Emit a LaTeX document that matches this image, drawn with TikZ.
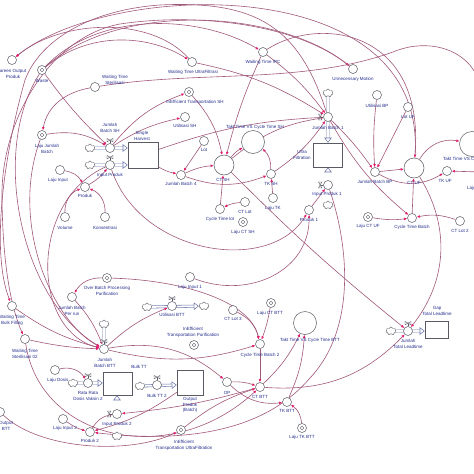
\documentclass[tikz,border=0pt]{standalone}
\usepackage{fontspec}
\setmainfont{Liberation Sans}
\usetikzlibrary{arrows.meta,shapes.symbols,calc}
\definecolor{circgray}{RGB}{90,90,100}
\definecolor{txtblue}{RGB}{35,45,140}
\definecolor{linkcol}{RGB}{160,88,122}
\definecolor{arrowmag}{RGB}{225,30,110}
\definecolor{pipecol}{RGB}{110,120,170}
\pgfdeclarelayer{bgfill}
\pgfdeclarelayer{background}
\pgfsetlayers{bgfill,background,main}
\newcommand\lblfont{\fontsize{4.5}{5.7}\selectfont}
\newcommand\vtopper[1]{%
  \draw[vhandle] (#1.north) -- ++(0,-1.8);
  \draw[vhandle,fill=white] ($(#1)+(-3,-9.5)$) -- ($(#1)+(3,-6.2)$) -- ($(#1)+(3,-9.5)$) -- ($(#1)+(-3,-6.2)$) -- cycle;}
\newcommand\vsider[1]{%
  \draw[vhandle] (#1.west) -- ++(-1.8,0);
  \draw[vhandle,fill=white] ($(#1)+(-9.5,-3)$) -- ($(#1)+(-6.2,3)$) -- ($(#1)+(-9.5,3)$) -- ($(#1)+(-6.2,-3)$) -- cycle;}
\begin{document}
\begin{tikzpicture}[x=1pt,y=-1pt,
  var/.style={circle, draw=circgray, fill=white, line width=0.5pt, minimum size=9pt, inner sep=0pt},
  bigvar/.style={var, minimum size=20pt},
  shadowv/.style={var, path picture={\draw[circgray,line width=0.35pt] (path picture bounding box.center) circle[radius=1.8pt];}},
  valve/.style={var},
  vhandle/.style={draw=circgray, line width=0.45pt},
  lbl/.style={font=\lblfont, text=txtblue, inner sep=0pt, align=center},
  lnk/.style={draw=linkcol, line width=0.6pt, -{Latex[length=3.2pt,width=2.8pt,color=arrowmag]}},
  levelbox/.style={rectangle, draw=circgray, fill=white, line width=0.55pt, inner sep=0pt},
  cloudn/.style={cloud, cloud puffs=7, aspect=1.3, draw=circgray, fill=white, line width=0.45pt, minimum width=10pt, minimum height=8pt, inner sep=0pt},
  pipeflow/.style={draw=pipecol, line width=0.55pt, double=white, double distance=1.8pt, -{Triangle[length=5pt,width=7.5pt,fill=white]}},
  pipeline/.style={draw=pipecol, line width=0.55pt, double=white, double distance=1.8pt}
]
\useasboundingbox (0,0) rectangle (474,474);
\begin{pgfonlayer}{bgfill}
\fill[white] (0,0) rectangle (474,474);
\end{pgfonlayer}

% ---------- levels ----------
\node[levelbox, minimum width=30pt, minimum height=26pt] (shbox) at (143,155) {};
\node[lbl] (shbox-l) at (142,136) {Single\\Harvest};
\node[levelbox, minimum width=29pt, minimum height=24pt] (ufbox) at (327.5,155) {};
\node[lbl] (ufbox-l) at (302,155) {Ultra\\Filtration};
\node[levelbox, minimum width=29pt, minimum height=23pt] (bulkbox) at (117.5,383.5) {};
\node[lbl] (bulkbox-l) at (139,367) {Bulk TT};
\node[levelbox, minimum width=26pt, minimum height=25pt] (outbox) at (190,382.5) {};
\node[lbl] (outbox-l) at (190,405) {Output\\Produk\\(Batch)};
\node[levelbox, minimum width=23pt, minimum height=17pt] (gapbox) at (436.5,329.5) {};
\node[lbl] (gapbox-l) at (437,311) {Gap\\Total Leadtime};

% ---------- clouds ----------
\node[cloudn] (cjbsh) at (90,148) {};
\node[cloudn] (cip) at (90,165) {};
\node[cloudn] (cjb1) at (328,93) {};
\node[cloudn] (cip1) at (328,205) {};
\node[cloudn] (cjbtt) at (104,324) {};
\node[cloudn] (crrdv) at (73,383) {};
\node[cloudn] (cip2) at (117,436) {};
\node[cloudn] (cbtt2) at (140,386) {};
\node[cloudn] (cutbtt) at (147,307) {};
\node[cloudn] (cutbtt2) at (204,306) {};
\node[cloudn] (cjtl) at (391,331) {};

% ---------- valves ----------
\node[valve] (vjbsh) at (110,148) {};
\node[lbl] (vjbsh-l) at (110,128) {Jumlah\\Batch SH};
\node[valve] (vip) at (110,165) {};
\node[lbl] (vip-l) at (110,175) {Input Produk};
\node[valve] (vjb1) at (328,117) {};
\node[lbl] (vjb1-l) at (328,128) {Jumlah Batch 1};
\node[valve] (vip1) at (328,185) {};
\node[lbl] (vip1-l) at (327,194) {Input Produk 1};
\node[valve] (vjbtt) at (104,349) {};
\node[lbl] (vjbtt-l) at (105,363) {Jumlah\\Batch BTT};
\node[valve] (vrrdv) at (88,383) {};
\node[lbl] (vrrdv-l) at (88,396) {Rata Rata\\Dosis Vaksin 2};
\node[valve] (vip2) at (117,414) {};
\node[lbl] (vip2-l) at (117,424) {Input Produk 2};
\node[valve] (vbtt2) at (157,385) {};
\node[lbl] (vbtt2-l) at (157,396) {Bulk TT 2};
\node[valve] (vutbtt) at (172,306) {};
\node[lbl] (vutbtt-l) at (172,315) {Utilisasi BTT};
\node[valve] (vjtl) at (408,331) {};
\node[lbl] (vjtl-l) at (408,344) {Jumlah\\Total Leadtime};

% ---------- auxiliaries ----------
\node[var] (kareen) at (12,60) {};
\node[lbl] (kareen-l) at (13,74) {areen Output\\Produk};
\node[shadowv] (waste) at (42,70) {};
\node[lbl] (waste-l) at (42,81) {Waste};
\node[var] (wts) at (95,87) {};
\node[lbl] (wts-l) at (115,80) {Waiting Time\\Sterilisasi};
\node[shadowv] (lajujb) at (42,135) {};
\node[lbl] (lajujb-l) at (47,149) {Laju Jumlah\\Batch};
\node[var] (wtu) at (192,62) {};
\node[lbl] (wtu-l) at (193,72) {Waiting Time UltraFiltrasi};
\node[var] (ipc) at (263,52) {};
\node[lbl] (ipc-l) at (263,62) {Waiting Time IPC};
\node[shadowv] (itsh) at (189,92) {};
\node[lbl] (itsh-l) at (195,102) {InEfficient Transportation SH};
\node[var] (utsh) at (185,117) {};
\node[lbl] (utsh-l) at (185,126) {Utilisasi SH};
\node[var] (lot) at (204,141) {};
\node[lbl] (lot-l) at (204,150) {Lot};
\node[bigvar, minimum size=23pt] (taktsh) at (253,142) {};
\node[lbl] (taktsh-l) at (255,127) {Takt Time VS Cycle Time SH};
\node[var] (jb4) at (181,175) {};
\node[lbl] (jb4-l) at (181,184) {Jumlah Batch 4};
\node[bigvar, minimum size=20pt] (ctsh) at (224,165) {};
\node[lbl] (ctsh-l) at (223,180) {CT SH};
\node[var] (tksh) at (271,174) {};
\node[lbl] (tksh-l) at (271,184) {TK SH};
\node[var] (lajutk) at (273,198) {};
\node[lbl] (lajutk-l) at (273,208) {Laju TK};
\node[var] (ctlot) at (245,202) {};
\node[lbl] (ctlot-l) at (245,212) {CT Lot};
\node[var] (ctl) at (220,209) {};
\node[lbl] (ctl-l) at (220,219) {Cycle Time lot};
\node[shadowv] (lajuctsh) at (243,222) {};
\node[lbl] (lajuctsh-l) at (243,232) {Laju CT SH};
\node[var] (unm) at (353,69) {};
\node[lbl] (unm-l) at (353,79) {Unnecessary Motion};
\node[var] (utbp) at (377,95) {};
\node[lbl] (utbp-l) at (377,106) {Utilisasi BP};
\node[var] (lotuf) at (408,107) {};
\node[lbl] (lotuf-l) at (408,117) {Lot UF};
\node[var] (jbbp) at (375,172) {};
\node[lbl] (jbbp-l) at (375,182) {Jumlah Batch BP};
\node[bigvar, minimum size=20pt] (ctuf) at (414,168) {};
\node[lbl] (ctuf-l) at (414,183) {CT UF};
\node[var] (tkuf) at (447,171) {};
\node[lbl] (tkuf-l) at (445,181) {TK UF};
\node[bigvar, minimum size=25pt] (taktuf) at (472,144) {};
\node[lbl, anchor=west] (taktuf-l) at (443,159) {Takt Time VS Cycle Time UF};
\node[var] (lajutkuf) at (481,172) {};
\node[lbl, anchor=west] (lajutkuf-l) at (467,188) {Laju TK UF};
\node[var] (ctb) at (412,218) {};
\node[lbl] (ctb-l) at (412,227) {Cycle Time Batch};
\node[shadowv] (lajuctuf) at (368,217) {};
\node[lbl] (lajuctuf-l) at (368,226) {Laju CT UF};
\node[var] (ctlot2) at (460,221) {};
\node[lbl] (ctlot2-l) at (460,231) {CT Lot 2};
\node[var] (produk1) at (309,210) {};
\node[lbl] (produk1-l) at (309,220) {Produk 1};
\node[var] (lajuinput) at (60,170) {};
\node[lbl] (lajuinput-l) at (58,180) {Laju Input};
\node[var] (produk) at (85,187) {};
\node[lbl] (produk-l) at (85,196) {Produk};
\node[var] (volume) at (65,217) {};
\node[lbl] (volume-l) at (65,228) {Volume};
\node[var] (kons) at (105,217) {};
\node[lbl] (kons-l) at (105,228) {Konsentrasi};
\node[shadowv] (obpp) at (107,278) {};
\node[lbl] (obpp-l) at (107,291) {Over Batch Processing\\Purification};
\node[var] (jbpr) at (72,297) {};
\node[lbl] (jbpr-l) at (72,311) {Jumlah Batch\\Per run};
\node[var] (lajuinput1) at (190,277) {};
\node[lbl] (lajuinput1-l) at (190,287) {Laju Input 1};
\node[var] (wtbf) at (12,306) {};
\node[lbl] (wtbf-l) at (12,320) {Waiting Time\\Bulk Filling};
\node[var] (wts02) at (25,339) {};
\node[lbl] (wts02-l) at (25,354) {Waiting Time\\Sterilisasi 02};
\node[var] (lajudosis) at (55,370) {};
\node[lbl] (lajudosis-l) at (58,380) {Laju Dosis};
\node[var] (lajuinput2) at (63,419) {};
\node[lbl] (lajuinput2-l) at (65,428) {Laju Input 2};
\node[var] (produk2) at (90,432) {};
\node[lbl] (produk2-l) at (90,441) {Produk 2};
\node[var] (outbtt) at (0,412) {};
\node[lbl] (outbtt-l) at (6,426) {Output\\BTT};
\node[var] (ctlot3) at (233,310) {};
\node[lbl] (ctlot3-l) at (233,319) {CT Lot 3};
\node[shadowv] (lajuctbtt) at (271,303) {};
\node[lbl] (lajuctbtt-l) at (270,313) {Laju CT BTT};
\node[var] (ctb2) at (260,344) {};
\node[lbl] (ctb2-l) at (260,355) {Cycle Time Batch 2};
\node[bigvar, minimum size=23pt] (taktbtt) at (305,323) {};
\node[lbl] (taktbtt-l) at (310,340) {Takt Time VS Cycle Time BTT};
\node[var] (op) at (227,382) {};
\node[lbl] (op-l) at (227,393) {OP};
\node[var] (ctbtt) at (260,387) {};
\node[lbl] (ctbtt-l) at (260,397) {CT BTT};
\node[var] (tkbtt) at (287,402) {};
\node[lbl] (tkbtt-l) at (287,411) {TK BTT};
\node[shadowv] (lajutkbtt) at (302,428) {};
\node[lbl] (lajutkbtt-l) at (302,437) {Laju TK BTT};
\node[shadowv] (itu) at (181,430) {};
\node[lbl] (itu-l) at (184,445) {InEfficient\\Transportation UltraFiltration};
\node[shadowv] (itp) at (194,345) {};
\node[lbl] (itp-l) at (193,332) {InEfficient\\Transportation Purification};

% ---------- pipes and links ----------
\begin{pgfonlayer}{background}
\draw[pipeflow] (cjbsh) -- (vjbsh -| shbox.west);
\draw[pipeflow] (cip) -- (vip -| shbox.west);
\draw[pipeflow] (cjb1) -- (vjb1 |- ufbox.north);
\draw[pipeflow] (cip1) -- (vip1 |- ufbox.south);
\draw[pipeline] (cjbtt) -- (vjbtt);
\draw[pipeflow] (crrdv) -- (vrrdv -| bulkbox.west);
\draw[pipeflow] (cip2) -- (vip2 |- bulkbox.south);
\draw[pipeflow] (cbtt2) -- (vbtt2 -| outbox.west);
\draw[pipeflow] (cutbtt) -- (cutbtt2);
\draw[pipeflow] (cjtl) -- (vjtl -| gapbox.west);

% top arcs
\draw[lnk] (vjb1) .. controls (300,30) and (260,0) .. (160,5) .. controls (90,10) and (40,40) .. (25,80) .. controls (5,150) and (-10,250) .. (wtbf);
\draw[lnk] (unm) .. controls (300,25) and (200,12) .. (120,24) .. controls (50,37) and (0,120) .. (2,200) .. controls (3,270) and (12,310) .. (wts02);
\draw[lnk] (ctuf) .. controls (430,-30) and (110,-20) .. (kareen);
\draw[lnk] (wtu) .. controls (150,15) and (60,20) .. (kareen);
\draw[lnk] (waste) .. controls (120,0) and (280,10) .. (unm);
\draw[lnk] (waste) .. controls (100,10) and (200,15) .. (ipc);
\draw[lnk] (waste) .. controls (90,30) and (150,35) .. (wtu);
\draw[lnk] (ipc) .. controls (320,15) and (425,30) .. (ctuf);
\draw[lnk] (wts) .. controls (200,70) and (300,85) .. (393,52) .. controls (440,32) and (500,60) .. (taktuf);
\draw[lnk] (ipc) to[bend left=8] (vjb1);
\draw[lnk] (wtu) to[bend left=10] (vjb1);
\draw[lnk] (ipc) to[bend right=5] (ctsh);

% middle left
\draw[lnk] (wts) to[out=190,in=80] (lajujb);
\draw[lnk] (waste) to[bend right=5] (vjbsh);
\draw[lnk] (lajujb) to[bend left=20] (vjbsh);
\draw[lnk] (vjbsh) to[bend left=15] (itsh);
\draw[lnk] (vjbsh) to[bend left=10] (utsh);
\draw[lnk] (shbox) to[bend left=8] (vjb1);
\draw[lnk] (itsh) to[bend left=15] (ctsh);
\draw[lnk] (lot) -- (jb4);
\draw[lnk] (shbox) to[bend right=10] (jb4);
\draw[lnk] (jb4) to[bend left=10] (ctsh);
\draw[lnk] (jb4) to[bend right=20] (tksh);
\draw[lnk] (ctsh) to[bend left=10] (taktsh);
\draw[lnk] (tksh) to[bend right=25] (taktsh);
\draw[lnk] (ctl) -- (ctsh);
\draw[lnk] (ctlot) to[bend right=10] (ctl);
\draw[lnk] (lajutk) -- (tksh);
\draw[lnk] (vip) .. controls (140,255) and (270,275) .. (produk1);
\draw[lnk] (lajuinput1) .. controls (250,300) and (310,270) .. (produk1);
\draw[lnk] (produk1) -- (vip1);
\draw[lnk] (ctsh) to[bend right=3] (vjtl);
\draw[lnk] (ctsh) to[bend left=15] (vjb1);
\draw[lnk] (tksh) to[bend right=10] (vjb1);

% right
\draw[lnk] (vjb1) to[bend left=5] (jbbp);
\draw[lnk] (utbp) to[bend right=5] (jbbp);
\draw[lnk] (lotuf) -- (jbbp);
\draw[lnk] (jbbp) -- (ctuf);
\draw[lnk] (jbbp) to[bend right=30] (tkuf);
\draw[lnk] (ctuf) to[bend left=35] (taktuf);
\draw[lnk] (lajutkuf) -- (tkuf);
\draw[lnk] (ctb) -- (ctuf);
\draw[lnk] (lajuctuf) to[bend right=8] (ctb);
\draw[lnk] (ctlot2) to[bend right=15] (ctb);
\draw[lnk] (vjb1) to[bend right=10] (ctb);
\draw[lnk] (ctuf) to[bend left=35] (vjtl);
\draw[lnk] (ctbtt) to[bend right=25] (vjtl);

% left and bottom
\draw[lnk] (waste) .. controls (-10,150) and (20,300) .. (vjbtt);
\draw[lnk] (lajujb) .. controls (10,220) and (50,320) .. (vjbtt);
\draw[lnk] (vip) .. controls (30,200) and (30,330) .. (vjbtt);
\draw[lnk] (wtbf) to[bend right=10] (vjbtt);
\draw[lnk] (wts02) to[bend right=5] (vjbtt);
\draw[lnk] (jbpr) to[bend left=10] (vjbtt);
\draw[lnk] (obpp) to[bend right=30] (jbpr);
\draw[lnk] (lajuinput) to[bend left=25] (produk);
\draw[lnk] (volume) to[bend left=35] (produk);
\draw[lnk] (kons) to[bend right=35] (produk);
\draw[lnk] (produk) to[bend right=10] (vip);
\draw[lnk] (vjbtt) to[bend right=15] (ctb2);
\draw[lnk] (vjbtt) to[bend left=25] (op);
\draw[lnk] (vjbtt) to[bend left=10] (vutbtt);
\draw[lnk] (obpp) .. controls (180,280) and (250,300) .. (ctb2);
\draw[lnk] (ctlot3) to[bend left=25] (ctb2);
\draw[lnk] (lajuctbtt) to[bend left=5] (ctb2);
\draw[lnk] (ctb2) -- (ctbtt);
\draw[lnk] (op) to[bend left=10] (ctbtt);
\draw[lnk] (op) to[bend right=25] (tkbtt);
\draw[lnk] (lajutkbtt) to[bend right=25] (tkbtt);
\draw[lnk] (ctbtt) to[bend right=10] (taktbtt);
\draw[lnk] (tkbtt) to[bend right=10] (taktbtt);
\draw[lnk] (outbox) to[bend left=10] (produk2);
\draw[lnk] (ctbtt) to[bend left=5] (vip2);
\draw[lnk] (itu) to[bend left=10] (ctbtt);
\draw[lnk] (vip1) .. controls (350,250) and (355,330) .. (310,378) .. controls (270,425) and (200,445) .. (produk2);
\draw[lnk] (wts02) .. controls (40,440) and (170,470) .. (ctbtt);
\draw[lnk] (outbtt) .. controls (40,450) and (130,455) .. (itu);
\draw[lnk] (lajudosis) to[bend left=35] (vrrdv);
\draw[lnk] (lajuinput2) to[bend right=10] (produk2);
\draw[lnk] (produk2) to[bend left=25] (vip2);
\end{pgfonlayer}

% valve handles
\vtopper{vjbsh}
\vtopper{vip}
\vsider{vjb1}
\vsider{vip1}
\vtopper{vjbtt}
\vtopper{vrrdv}
\vsider{vip2}
\vtopper{vbtt2}
\vtopper{vutbtt}
\vtopper{vjtl}
\end{tikzpicture}
\end{document}
